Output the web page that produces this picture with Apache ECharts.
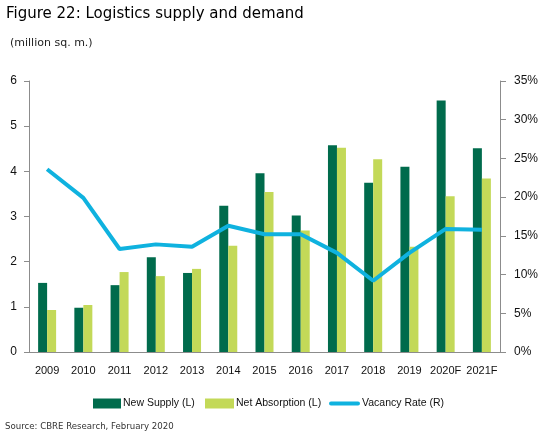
<!DOCTYPE html>
<html>
<head>
<meta charset="utf-8">
<script src="https://cdn.jsdelivr.net/npm/echarts@6/dist/echarts.min.js"></script>
<style>
  html, body { margin: 0; padding: 0; background: #fff; }
  #chart { width: 550px; height: 442px; }
</style>
</head>
<body>
<div id="chart"></div>
<script>
// 数据
const years = ['2009', '2010', '2011', '2012', '2013', '2014', '2015', '2016', '2017', '2018', '2019', '2020F', '2021F'];
const newSupply = [1.53, 0.98, 1.48, 2.10, 1.75, 3.24, 3.96, 3.02, 4.58, 3.75, 4.10, 5.57, 4.51];
const netAbsorption = [0.93, 1.04, 1.77, 1.68, 1.84, 2.35, 3.54, 2.69, 4.52, 4.27, 2.33, 3.45, 3.84];
const vacancyRate = [23.6, 19.9, 13.3, 13.9, 13.6, 16.3, 15.2, 15.2, 12.8, 9.2, 12.8, 15.9, 15.8];

const labelFont = "'Liberation Sans', sans-serif";
const textFont = "'DejaVu Sans', sans-serif";
const axisColor = '#8c8c8c';

// 单项图例，方便逐个定位
function legendItem(name, left, icon, width) {
  return {
    left: left, top: 398,
    padding: 0,
    itemWidth: width,
    itemHeight: 10,
    itemGap: 0,
    textStyle: { fontFamily: labelFont, fontSize: 10.5, color: '#111', padding: [0, 0, 0, -3] },
    data: [{ name: name, icon: icon }]
  };
}

const chart = echarts.init(document.getElementById('chart'));

const option = {
  backgroundColor: '#fff',
  animation: false,
  title: [
    {
      text: 'Figure 22: Logistics supply and demand',
      left: 6, top: 7, padding: 0,
      textStyle: { fontFamily: textFont, fontSize: 15, fontWeight: 'normal', color: '#000' }
    },
    {
      text: '(million sq. m.)',
      left: 10, top: 38, padding: 0,
      textStyle: { fontFamily: textFont, fontSize: 11, fontWeight: 'normal', color: '#222' }
    },
    {
      text: 'Source: CBRE Research, February 2020',
      left: 5, top: 422, padding: 0,
      textStyle: { fontFamily: textFont, fontSize: 8.6, fontWeight: 'normal', color: '#333' }
    }
  ],
  grid: { left: 29, right: 50, top: 81, bottom: 90 },
  legend: [
    legendItem('New Supply (L)', 93, 'rect', 28),
    legendItem('Net Absorption (L)', 205, 'rect', 29),
    legendItem('Vacancy Rate (R)', 329, 'path://M2,0H29A2,2 0 0 1 29,4H2A2,2 0 0 1 2,0Z', 31)
  ],
  xAxis: {
    type: 'category',
    data: years,
    axisLine: { lineStyle: { color: axisColor, width: 1 } },
    axisTick: { show: false },
    axisLabel: { interval: 0, fontFamily: labelFont, fontSize: 11, color: '#111', margin: 13 }
  },
  yAxis: [
    {
      type: 'value',
      min: 0, max: 6, interval: 1,
      axisLine: { show: true, lineStyle: { color: axisColor } },
      axisTick: { show: true, length: 5, lineStyle: { color: axisColor } },
      splitLine: { show: false },
      axisLabel: { fontFamily: labelFont, fontSize: 12, color: '#111', margin: 12 }
    },
    {
      type: 'value',
      min: 0, max: 35, interval: 5,
      position: 'right',
      axisLine: { show: true, lineStyle: { color: axisColor } },
      axisTick: { show: true, length: 6, lineStyle: { color: axisColor } },
      splitLine: { show: false },
      axisLabel: { fontFamily: labelFont, fontSize: 12, color: '#111', margin: 14, formatter: '{value}%' }
    }
  ],
  series: [
    {
      name: 'New Supply (L)',
      type: 'bar',
      barWidth: 9,
      barGap: '0%',
      itemStyle: { color: '#006b4c' },
      data: newSupply
    },
    {
      name: 'Net Absorption (L)',
      type: 'bar',
      barWidth: 9,
      itemStyle: { color: '#c3d958' },
      data: netAbsorption
    },
    {
      name: 'Vacancy Rate (R)',
      type: 'line',
      yAxisIndex: 1,
      symbol: 'none',
      lineStyle: { color: '#0fb2df', width: 4 },
      itemStyle: { color: '#0fb2df' },
      data: vacancyRate
    }
  ]
};

chart.setOption(option);
</script>
</body>
</html>
